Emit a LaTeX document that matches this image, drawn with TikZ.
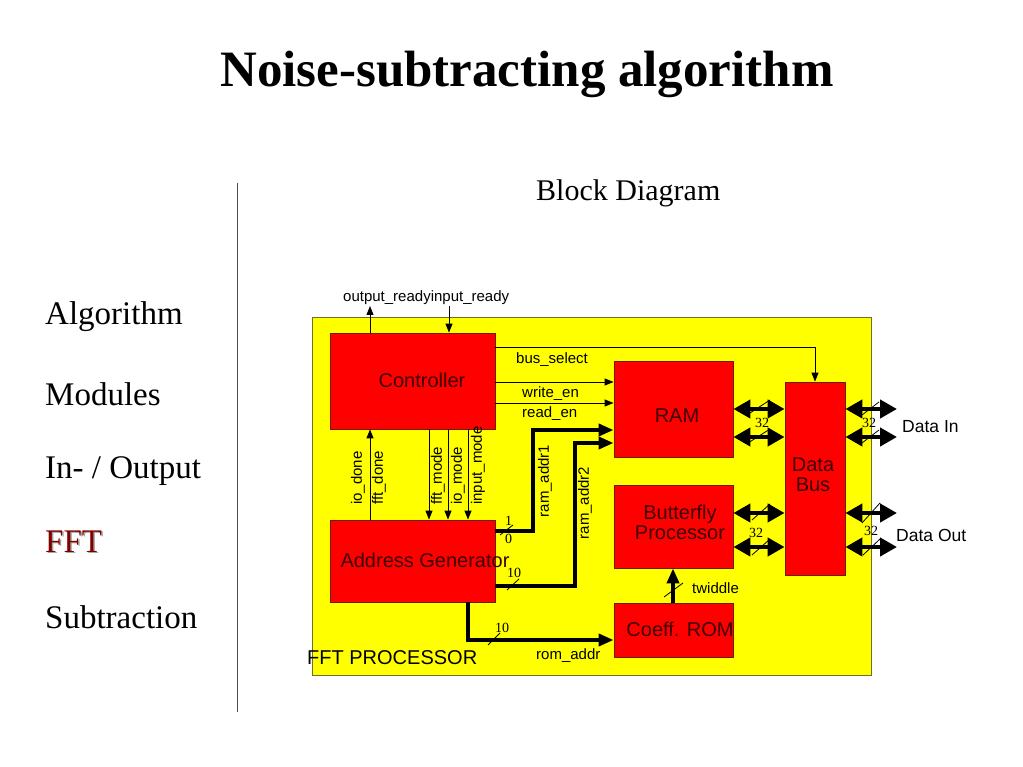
\documentclass[tikz,border=0pt]{standalone}
\usepackage{fontspec}
\setmainfont{Liberation Serif}
\newfontfamily\sansf{Liberation Sans}
\usetikzlibrary{arrows.meta}
\definecolor{boxred}{RGB}{255,0,0}
\definecolor{ylw}{RGB}{255,255,0}
\definecolor{boxline}{RGB}{110,30,0}
\definecolor{ylwline}{RGB}{110,110,40}
\definecolor{boxtxt}{RGB}{60,0,0}
\definecolor{fftred}{RGB}{128,0,0}
\begin{document}
\begin{tikzpicture}[x=1pt,y=-1pt,
 box/.style={draw=boxline, fill=boxred, line width=0.8pt, inner sep=0pt},
 boxtext/.style={font=\sansf\fontsize{20}{20}\selectfont, text=boxtxt, inner sep=0pt, align=center, anchor=base},
 lbl/.style={font=\sansf\fontsize{15}{15}\selectfont, inner sep=0pt, anchor=base west},
 vlbl/.style={font=\sansf\fontsize{15}{15}\selectfont, inner sep=0pt, rotate=90, anchor=west},
 num/.style={font=\fontsize{14}{14}\selectfont, inner sep=0pt, anchor=base west},
 sig/.style={line width=0.9pt, -{Triangle[length=9pt,width=7pt]}},
 bus/.style={line width=4.5pt, -{Triangle[length=15pt,width=12pt]}},
 dbus/.style={line width=4.2pt, {Triangle[length=17pt,width=18pt]}-{Triangle[length=17pt,width=18pt]}},
 slash/.style={line width=0.8pt},
 listitem/.style={font=\fontsize{33}{33}\selectfont, inner sep=0pt, anchor=base west}
]
\useasboundingbox (0,0) rectangle (1023,767);
\fill[white] (0,0) rectangle (1023,767);

% title and side list
\node[font=\bfseries\fontsize{51}{51}\selectfont, inner sep=0pt, anchor=base west] (title) at (220,87) {Noise-subtracting algorithm};
\node[font=\fontsize{30}{30}\selectfont, inner sep=0pt, anchor=base west] (bd) at (536,201) {Block Diagram};
\node[listitem] (l1) at (45,325) {Algorithm};
\node[listitem] (l2) at (45,405) {Modules};
\node[listitem] (l3) at (45,478) {In- / Output};
\node[listitem, text=black!35] (l4s) at (46.5,553.5) {FFT};
\node[listitem, text=fftred] (l4) at (45,552) {FFT};
\node[listitem] (l5) at (45,628) {Subtraction};
\draw[black!70, line width=1pt] (237,183) -- (237,712);

% FFT processor
\node[draw=ylwline, fill=ylw, line width=0.8pt, minimum width=559pt, minimum height=358pt, inner sep=0pt] (fftp) at (591.5,496) {};
\node[box, minimum width=165pt, minimum height=96pt] (ctrl) at (412.5,381) {};
\node[box, minimum width=165pt, minimum height=82pt] (ag) at (412.5,561) {};
\node[box, minimum width=119pt, minimum height=96pt] (ram) at (673.5,409) {};
\node[box, minimum width=119pt, minimum height=83pt] (bf) at (673.5,526.5) {};
\node[box, minimum width=60pt, minimum height=193pt] (db) at (815,478.5) {};
\node[box, minimum width=119pt, minimum height=54pt] (rom) at (673.5,630) {};

% thin control signals
\coordinate (orT) at (370,306);
\coordinate (irT) at (449,306);
\draw[sig] (ctrl.north -| orT) -- (orT);
\draw[sig] (irT) -- (ctrl.north -| irT);
\node[lbl] (orl) at (343,302) {output\_readyinput\_ready};
\coordinate (bsP) at (815,347);
\draw[sig] (ctrl.east |- bsP) -- (bsP) -- (db.north);
\node[lbl] (bsl) at (516,363) {bus\_select};
\coordinate (weY) at (0,382);
\draw[sig] (ctrl.east |- weY) -- (ram.west |- weY);
\node[lbl] (wel) at (522,397) {write\_en};
\coordinate (reY) at (0,403);
\draw[sig] (ctrl.east |- reY) -- (ram.west |- reY);
\node[lbl] (rel) at (522,417) {read\_en};

\coordinate (c1) at (370,0);
\coordinate (c2) at (429,0);
\coordinate (c3) at (448,0);
\coordinate (c4) at (468,0);
\draw[sig] (ag.north -| c1) -- (ctrl.south -| c1);
\draw[sig] (ctrl.south -| c2) -- (ag.north -| c2);
\draw[sig] (ctrl.south -| c3) -- (ag.north -| c3);
\draw[sig] (ctrl.south -| c4) -- (ag.north -| c4);
\node[vlbl] (iod) at (358,505) {io\_done};
\node[vlbl] (fftd) at (379,505) {fft\_done};
\node[vlbl] (fftm) at (438,505) {fft\_mode};
\node[vlbl] (iom) at (458,505) {io\_mode};
\node[vlbl] (inm) at (478,505) {input\_mode};

% thick address buses
\coordinate (a1a) at (533,531);
\coordinate (a1b) at (533,430);
\draw[bus] (ag.east |- a1a) -- (a1a) -- (a1b) -- (ram.west |- a1b);
\coordinate (a2a) at (575,586);
\coordinate (a2b) at (575,443);
\draw[bus] (ag.east |- a2a) -- (a2a) -- (a2b) -- (ram.west |- a2b);
\coordinate (ra) at (468,640);
\draw[bus] (ag.south -| ra) -- (ra) -- (rom.west |- ra);
\coordinate (tw) at (673,0);
\draw[bus] (rom.north -| tw) -- (bf.south -| tw);

\node[vlbl, anchor=center] (ra1) at (545,481) {ram\_addr1};
\node[vlbl, anchor=center] (ra2) at (585,503) {ram\_addr2};
\node[num] (n1) at (505,525) {1};
\node[num] (n0) at (505,543) {0};
\draw[slash] (500,535) -- (513,525);
\node[num] (n10a) at (507,577) {10};
\draw[slash] (507,590) -- (519,579);
\node[num] (n10b) at (495,632) {10};
\draw[slash] (488,645) -- (500,633);
\draw[slash] (664,597) -- (683,583);
\node[lbl] (twl) at (692,593) {twiddle};
\node[lbl] (romal) at (536,659) {rom\_addr};
\node[font=\sansf\fontsize{20}{20}\selectfont, inner sep=0pt, anchor=base west] (fftpl) at (307,664) {FFT PROCESSOR};

% data buses
\coordinate (d1) at (0,409);
\coordinate (d2) at (0,437);
\coordinate (d3) at (0,513);
\coordinate (d4) at (0,547);
\draw[dbus] (ram.east |- d1) -- (db.west |- d1);
\draw[dbus] (ram.east |- d2) -- (db.west |- d2);
\draw[dbus] (bf.east |- d3) -- (db.west |- d3);
\draw[dbus] (bf.east |- d4) -- (db.west |- d4);
\coordinate (o1) at (897,409);
\coordinate (o2) at (897,437);
\coordinate (o3) at (897,513);
\coordinate (o4) at (897,547);
\draw[dbus] (db.east |- o1) -- (o1);
\draw[dbus] (db.east |- o2) -- (o2);
\draw[dbus] (db.east |- o3) -- (o3);
\draw[dbus] (db.east |- o4) -- (o4);
\draw[slash] (750,413) -- (770,400);
\draw[slash] (748,443) -- (770,429);
\draw[slash] (862,415) -- (879,402);
\draw[slash] (862,443) -- (879,430);
\draw[slash] (752,520) -- (770,504);
\draw[slash] (752,555) -- (770,539);
\draw[slash] (862,523) -- (880,503);
\draw[slash] (863,555) -- (880,539);
\node[num] (b1) at (755,427) {32};
\node[num] (b2) at (862,427) {32};
\node[num] (b3) at (749,537) {32};
\node[num] (b4) at (864,535) {32};
\node[font=\sansf\fontsize{17.5}{17.5}\selectfont, inner sep=0pt, anchor=base west] (din) at (902,432) {Data In};
\node[font=\sansf\fontsize{17.5}{17.5}\selectfont, inner sep=0pt, anchor=base west] (dout) at (896,541) {Data Out};

% box texts
\node[boxtext] (ctrlt) at (422,387) {Controller};
\node[boxtext] (agt) at (425,567) {Address Generator};
\node[boxtext] (ramt) at (677,422) {RAM};
\node[boxtext] (bft) at (680,539) {Butterfly\\Processor};
\node[boxtext] (dbt) at (813,491) {Data\\Bus};
\node[boxtext] (romt) at (680,636) {Coeff. ROM};
\end{tikzpicture}
\end{document}
